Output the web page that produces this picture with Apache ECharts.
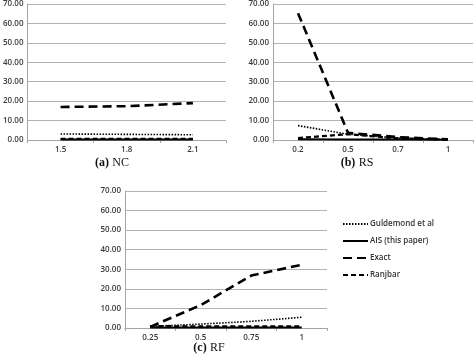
<!DOCTYPE html>
<html><head><meta charset="utf-8">
<script src="https://cdn.jsdelivr.net/npm/echarts@6/dist/echarts.min.js"></script>
<style>html,body{margin:0;padding:0;background:#fff}#c{width:474px;height:357px}</style>
</head><body><div id="c"></div>
<script>
const catsNC = ['1.5', '1.8', '2.1'];
const catsRS = ['0.2', '0.5', '0.7', '1'];
const catsRF = ['0.25', '0.5', '0.75', '1'];

const guldNC = [3.1, 2.9, 2.7];
const aisNC = [0.3, 0.3, 0.3];
const exactNC = [17.0, 17.4, 19.0];
const ranjNC = [0.6, 0.6, 0.6];

const guldRS = [7.4, 3.0, 1.0, 0.3];
const aisRS = [0.4, 0.3, 0.2, 0.1];
const exactRS = [65.3, 3.7, 1.5, 0.3];
const ranjRS = [1.0, 3.0, 0.8, 0.3];

const guldRF = [0.8, 2.0, 3.4, 5.5];
const aisRF = [0.3, 0.3, 0.3, 0.3];
const exactRF = [0.6, 11.7, 26.8, 32.3];
const ranjRF = [1.0, 0.8, 0.8, 0.8];

const yTicks = [0, 10, 20, 30, 40, 50, 60, 70];
const names = ['Guldemond et al', 'AIS (this paper)', 'Exact', 'Ranjbar'];
const captions = [['(a)', 'NC'], ['(b)', 'RS'], ['(c)', 'RF']];

const styles = [
  {type: [1.5, 1.5], width: 1.6},
  {type: 'solid', width: 2},
  {type: [9, 5], width: 2.6},
  {type: [5, 3], width: 2.2}
];

const grids = [
  {left: 25, top: 4, width: 201, height: 136},
  {left: 273, top: 4, width: 200, height: 136},
  {left: 125, top: 191, width: 202, height: 137}
];
const cats = [catsNC, catsRS, catsRF];
const data = [
  [guldNC, aisNC, exactNC, ranjNC],
  [guldRS, aisRS, exactRS, ranjRS],
  [guldRF, aisRF, exactRF, ranjRF]
];

const axisColor = '#a6a6a6';
const labelFont = {fontFamily: 'Open Sans, sans-serif', fontSize: 8, fontWeight: 600, color: '#3a3a3a'};

const option = {
  backgroundColor: '#fff',
  animation: false,
  grid: grids,
  xAxis: cats.map((c, i) => ({
    type: 'category', gridIndex: i, data: c, boundaryGap: true,
    axisLine: {lineStyle: {color: axisColor}},
    axisTick: {show: true, length: 3, lineStyle: {color: axisColor}},
    axisLabel: Object.assign({margin: 6}, labelFont)
  })),
  yAxis: cats.map((c, i) => ({
    type: 'value', gridIndex: i, min: yTicks[0], max: yTicks[yTicks.length - 1], interval: 10,
    axisLine: {show: true, lineStyle: {color: axisColor}},
    axisTick: {show: false},
    splitLine: {lineStyle: {color: '#b3b3b3', width: 1}},
    axisLabel: Object.assign({margin: 4, formatter: v => v.toFixed(2)}, labelFont)
  })),
  legend: {
    orient: 'vertical', left: 337, top: 215, itemGap: 9,
    itemWidth: 25, itemHeight: 8,
    itemStyle: {opacity: 0},
    data: names,
    textStyle: {fontFamily: 'Open Sans, sans-serif', fontSize: 8, fontWeight: 600, color: '#333', padding: [0, 0, 0, -3]}
  },
  graphic: [],
  series: []
};

data.forEach((set, g) => {
  set.forEach((vals, k) => {
    option.series.push({
      name: names[k], type: 'line', xAxisIndex: g, yAxisIndex: g,
      data: vals, symbol: 'none', silent: true, z: 10 - k,
      lineStyle: {color: '#000', type: styles[k].type, width: styles[k].width},
      itemStyle: {color: '#000'}
    });
  });
});

const capPos = [[112, 163], [357, 163], [209, 348]];
captions.forEach((c, i) => {
  option.graphic.push({
    type: 'text', x: capPos[i][0], y: capPos[i][1],
    style: {
      text: '{b|' + c[0] + '} {r|' + c[1] + '}',
      align: 'center', verticalAlign: 'middle',
      rich: {
        b: {fontFamily: 'Liberation Serif, serif', fontSize: 12, fontWeight: 'bold', fill: '#111'},
        r: {fontFamily: 'Liberation Serif, serif', fontSize: 12, fill: '#111'}
      }
    }
  });
});

const chart = echarts.init(document.getElementById('c'), null, {renderer: 'canvas'});
chart.setOption(option);
</script></body></html>
